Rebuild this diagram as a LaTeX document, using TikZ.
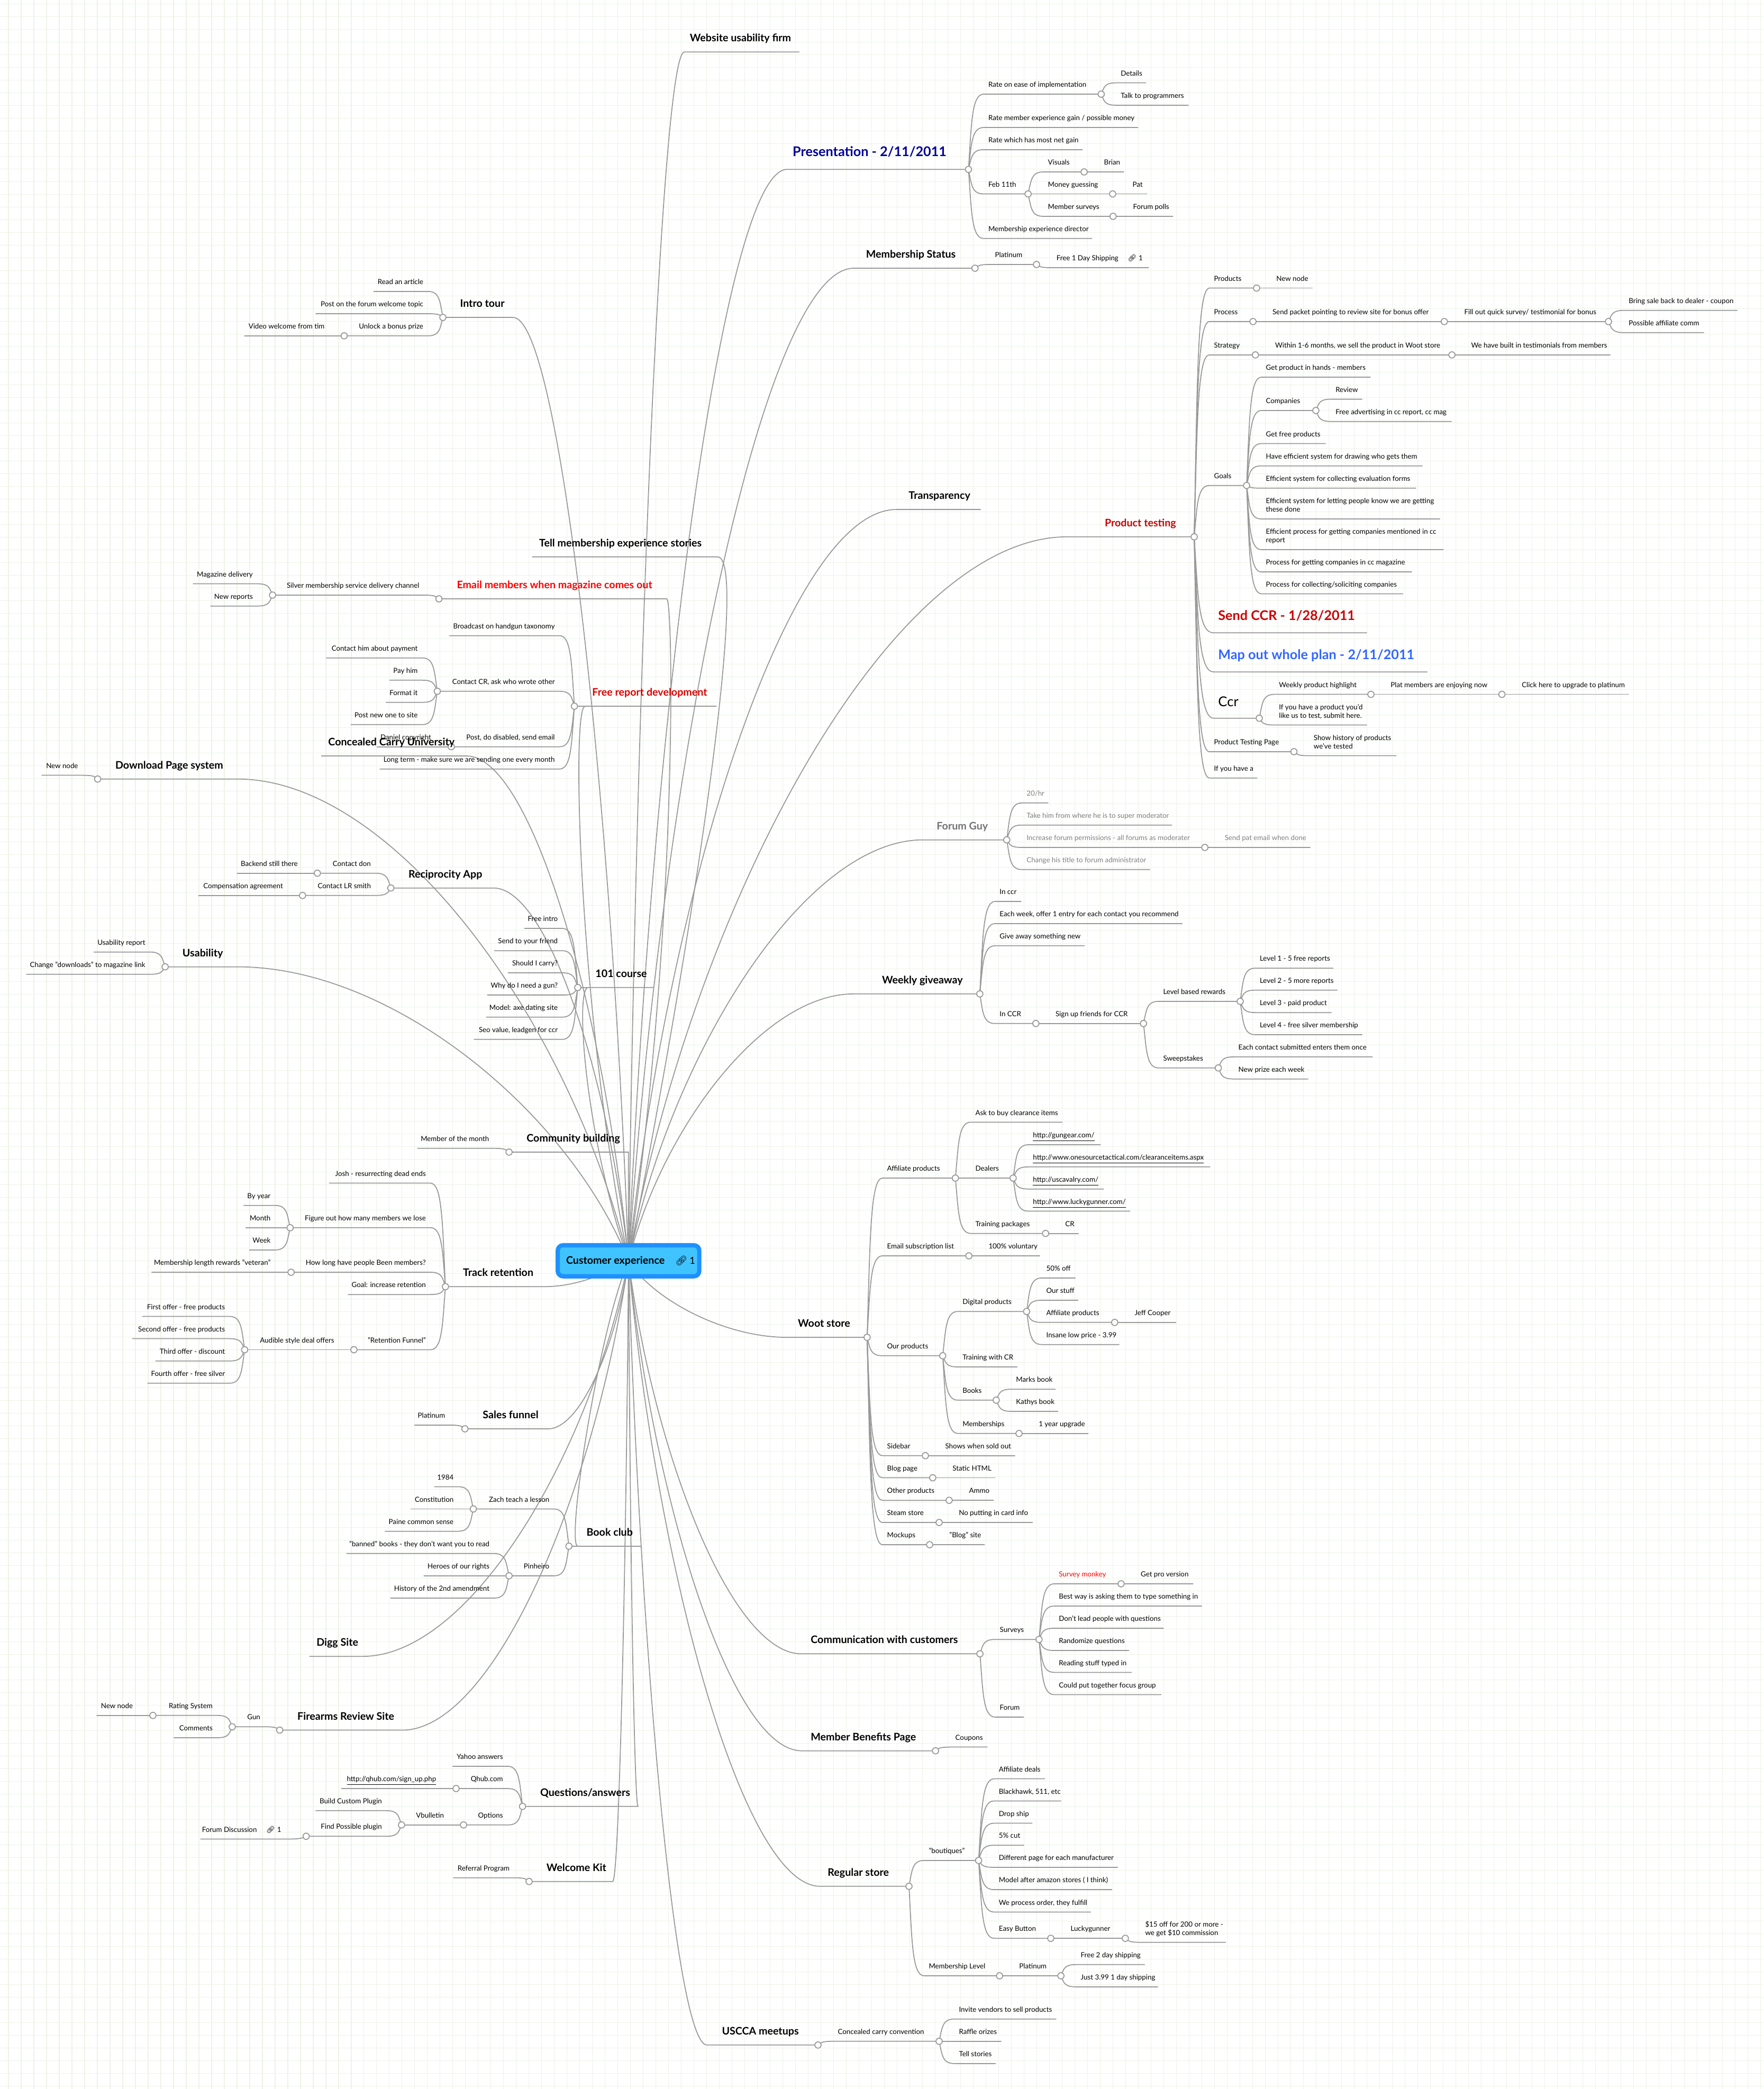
\documentclass[tikz,border=0pt]{standalone}
\usepackage{fontspec}
\setmainfont{Lato}[Ligatures=Common]
\newfontfamily\emo{Noto Emoji}
\usetikzlibrary{calc}
\pgfdeclarelayer{grid}\pgfdeclarelayer{lines}
\pgfsetlayers{grid,lines,main}
\definecolor{linecol}{HTML}{999999}
\definecolor{gridcol}{HTML}{EDF3E6}
\definecolor{rootfill}{HTML}{40C4FF}
\definecolor{rootedge}{HTML}{1E90FF}
\definecolor{navyt}{HTML}{000099}
\definecolor{redt}{HTML}{CC0000}
\definecolor{bluet}{HTML}{3366FF}
\definecolor{greyt}{HTML}{808080}
\tikzset{
  x=1pt,y=-1pt,
  conn/.style={draw=linecol,line width=.7pt,line cap=round},
  jn/.style={circle,draw=linecol,fill=white,line width=.7pt,minimum size=4.7pt,inner sep=0pt},
  leaf/.style={inner sep=0pt,font=\fontsize{5.28}{6.3}\selectfont,text=black},
  topic/.style={font=\fontsize{7.8}{8.5}\selectfont\bfseries,yshift=2.4pt},
  bigt/.style={font=\fontsize{10}{12}\selectfont\bfseries,yshift=4.2pt},
  ccrt/.style={font=\fontsize{10.2}{12}\selectfont,yshift=3.4pt},
  grey/.style={text=greyt},
  rootbox/.style={draw=rootedge,fill=rootfill,line width=3.2pt,rounded corners=4pt,minimum width=106.1pt,minimum height=23.3pt,outer sep=0pt,inner xsep=0pt,inner ysep=0pt,font=\fontsize{7.2}{9}\selectfont}
}
\newcommand\lnk{{\emo\symbol{"1F517}}}
\newcommand\twol[2]{\vbox{\baselineskip=6.4pt\hbox{#1}\hbox{#2}}}
\newcommand\treeedge[2]{\begin{pgfonlayer}{lines}\draw[conn] let \p1=(#1),\p2=(#2 a) in (\p1) .. controls ({\x1+.2*(\x2-\x1)},{\y1+.6*(\y2-\y1)}) and ({\x1+.2*(\x2-\x1)},\y2) .. (#2 a) -- (#2 b);\end{pgfonlayer}}
\newcommand\rootlink[1]{\begin{pgfonlayer}{lines}\draw[conn] let \p1=(root.center),\p2=(#1 a) in (\p1) .. controls ({\x1+.15*(\x2-\x1)},{\y1+.5*(\y2-\y1)}) and ({\x1+.6*(\x2-\x1)},\y2) .. (#1 a) -- (#1 b);\end{pgfonlayer}}
\newcommand\customlink[5]{\begin{pgfonlayer}{lines}\draw[conn] (root.center) .. controls (#2,#3) and (#4,#5) .. (#1 a) -- (#1 b);\end{pgfonlayer}}
% child on the right: id parent textx endx y text
\newcommand\NR[7][]{\coordinate (#2 a) at (#4-3.3,#6);\coordinate (#2 b) at (#5,#6);
  \node[leaf,anchor=base west,#1] (#2) at (#4,#6-5.3) {#7};\treeedge{#3}{#2}}
\newcommand\NL[7][]{\coordinate (#2 a) at (#4+3.3,#6);\coordinate (#2 b) at (#5,#6);
  \node[leaf,anchor=base east,#1] (#2) at (#4,#6-5.3) {#7};\treeedge{#3}{#2}}
\newcommand\NRJ[7][]{\NR[#1]{#2}{#3}{#4}{#5}{#6}{#7}\node[jn] (#2 j) at (#5,#6) {};}
\newcommand\NLJ[7][]{\NL[#1]{#2}{#3}{#4}{#5}{#6}{#7}\node[jn] (#2 j) at (#5,#6) {};}
% top level: id textx attachx endx y text
\newcommand\TP[7][]{\coordinate (#2 a) at (#4,#6);\coordinate (#2 b) at (#5,#6);
  \node[leaf,topic,anchor=base west,#1] (#2) at (#3,#6-5.3) {#7};}
\newcommand\TPJ[7][]{\TP[#1]{#2}{#3}{#4}{#5}{#6}{#7}\node[jn] (#2 j) at (#5,#6) {};}
\begin{document}
\begin{tikzpicture}
\useasboundingbox (0,0) rectangle (1322,1566.3);
\begin{pgfonlayer}{grid}
\fill[white] (0,0) rectangle (1322,1566.3);
\foreach \k in {0,...,138}{\draw[gridcol,line width=.4pt] ({6.346+9.519*\k},0) -- ({6.346+9.519*\k},1566.3);}
\foreach \k in {0,...,164}{\draw[gridcol,line width=.4pt] (0,{2.9+9.519*\k}) -- (1322,{2.9+9.519*\k});}
\end{pgfonlayer}
\node[rootbox] (root) at (471.15,945.3) {\makebox[93.5pt][l]{\textbf{\fontsize{7.8}{9}\selectfont Customer experience}\hspace{8pt}\lnk\hspace{1.5pt}1}};
% ---------- right side
\TP{web}{517}{513}{599}{39}{Website usability firm}\rootlink{web}
\TPJ[bigt,text=navyt,yshift=-2pt]{pres}{594}{590}{726}{127}{Presentation - 2/11/2011}\rootlink{pres}
\NRJ{p1}{pres j}{740.7}{825.5}{70.6}{Rate on ease of implementation}
\NR{p1a}{p1 j}{840}{859}{62.1}{Details}
\NR{p1b}{p1 j}{840}{890.8}{78.9}{Talk to programmers}
\NR{p2}{pres j}{740.7}{853}{95.6}{Rate member experience gain / possible money}
\NR{p3}{pres j}{740.7}{811.4}{112.2}{Rate which has most net gain}
\NRJ{p4}{pres j}{740.7}{770.7}{145.4}{Feb 11th}
\NRJ{p4a}{p4 j}{785.4}{812.7}{128.9}{Visuals}
\NR{p4a1}{p4a j}{827.4}{842.3}{128.9}{Brian}
\NRJ{p4b}{p4 j}{785.4}{834.1}{145.4}{Money guessing}
\NR{p4b1}{p4b j}{848.8}{859.8}{145.4}{Pat}
\NRJ{p4c}{p4 j}{785.4}{834.4}{162.2}{Member surveys}
\NR{p4c1}{p4c j}{849.2}{879.2}{162.2}{Forum polls}
\NR{p5}{pres j}{740.7}{818.5}{178.8}{Membership experience director}
\TPJ{ms}{649}{640}{730.9}{201.1}{Membership Status}\rootlink{ms}
\NRJ{ms1}{ms j}{745.7}{777}{198.3}{Platinum}
\NR{ms2}{ms1 j}{791.8}{861}{200.7}{Free 1 Day Shipping\hspace{7pt}\lnk\hspace{1.5pt}1}
\TP{tr}{681}{672}{735}{382}{Transparency}\rootlink{tr}
\TPJ[text=red!80!black]{pt}{828}{800}{895.2}{402.5}{Product testing}\rootlink{pt}
\NRJ{pt1}{pt j}{909.9}{942}{216}{Products}
\NR{pt1a}{pt1 j}{956.6}{983.7}{216}{New node}
\NRJ{pt2}{pt j}{909.9}{939.3}{241.1}{Process}
\NRJ{pt2a}{pt2 j}{953.7}{1082.7}{241.1}{Send packet pointing to review site for bonus offer}
\NRJ{pt2b}{pt2a j}{1097.5}{1205.8}{241.1}{Fill out quick survey/ testimonial for bonus}
\NR{pt2c}{pt2b j}{1220.8}{1302.2}{232.7}{Bring sale back to dealer - coupon}
\NR{pt2d}{pt2b j}{1220.8}{1277.2}{249.4}{Possible affiliate comm}
\NRJ{pt3}{pt j}{909.9}{941.1}{266.1}{Strategy}
\NRJ{pt3a}{pt3 j}{955.7}{1088.4}{266.1}{Within 1-6 months, we sell the product in Woot store}
\NR{pt3b}{pt3a j}{1102.7}{1207}{266.1}{We have built in testimonials from members}
\NRJ{pt4}{pt j}{909.9}{934.5}{364}{Goals}
\NR{g1}{pt4 j}{948.8}{1027.3}{282.8}{Get product in hands - members}
\NRJ{g2}{pt4 j}{948.8}{986.4}{307.8}{Companies}
\NR{g2a}{g2 j}{1001}{1021}{299.3}{Review}
\NR{g2b}{g2 j}{1001}{1088}{316}{Free advertising in cc report, cc mag}
\NR{g3}{pt4 j}{948.8}{993.6}{332.6}{Get free products}
\NR{g4}{pt4 j}{948.8}{1066.2}{349.3}{Have efficient system for drawing who gets them}
\NR{g5}{pt4 j}{948.8}{1061.4}{366}{Efficient system for collecting evaluation forms}
\NR{g6}{pt4 j}{948.8}{1079.3}{389.1}{\twol{Efficient system for letting people know we are getting}{these done}}
\NR{g7}{pt4 j}{948.8}{1082}{412.1}{\twol{Efficient process for getting companies mentioned in cc}{report}}
\NR{g8}{pt4 j}{948.8}{1058.2}{428.8}{Process for getting companies in cc magazine}
\NR{g9}{pt4 j}{948.8}{1051.7}{445.2}{Process for collecting/soliciting companies}
\NR[bigt,text=redt]{pt5}{pt j}{913}{1024.5}{474.5}{Send CCR - 1/28/2011}
\NR[bigt,text=bluet]{pt6}{pt j}{913}{1069.8}{503.8}{Map out whole plan - 2/11/2011}
\NRJ[ccrt]{pt7}{pt j}{913}{944}{538.5}{Ccr}
\NRJ{c1}{pt7 j}{958.6}{1027.7}{520.6}{Weekly product highlight}
\NRJ{c1a}{c1 j}{1042.3}{1125.9}{520.6}{Plat members are enjoying now}
\NR{c1b}{c1a j}{1140.6}{1220.8}{520.6}{Click here to upgrade to platinum}
\NR{c2}{pt7 j}{958.6}{1024.5}{543.6}{\twol{If you have a product you'd}{like us to test, submit here.}}
\NRJ{pt8}{pt j}{909.9}{970}{563.6}{Product Testing Page}
\NR{pt8a}{pt8 j}{984.6}{1046.6}{566.6}{\twol{Show history of products}{we've tested}}
\NR{pt9}{pt j}{909.9}{942.2}{583.3}{If you have a}
\TPJ[text=greyt!90!black]{fg}{702}{692}{754.7}{629.7}{Forum Guy}\rootlink{fg}
\NR[grey]{fg1}{fg j}{769.4}{785.6}{602}{20/hr}
\NR[grey]{fg2}{fg j}{769.4}{878.4}{618.6}{Take him from where he is to super moderator}
\NRJ[grey]{fg3}{fg j}{769.4}{903.2}{635.4}{Increase forum permissions - all forums as moderater}
\NR[grey]{fg3a}{fg3 j}{917.9}{982.1}{635.4}{Send pat email when done}
\NR[grey]{fg4}{fg j}{769.4}{861.9}{652}{Change his title to forum administrator}
\TPJ{wg}{661}{640}{734.5}{745.2}{Weekly giveaway}\rootlink{wg}
\NR{wg1}{wg j}{749.2}{765.4}{675.9}{In ccr}
\NR{wg2}{wg j}{749.2}{886.2}{692.5}{Each week, offer 1 entry for each contact you recommend}
\NR{wg3}{wg j}{749.2}{812.9}{709.1}{Give away something new}
\NRJ{wg4}{wg j}{749.2}{776.5}{767.4}{In CCR}
\NRJ{wg5}{wg4 j}{791.1}{857.2}{767.4}{Sign up friends for CCR}
\NRJ{wg6}{wg5 j}{871.8}{929.7}{750.8}{Level based rewards}
\NR{l1}{wg6 j}{944.2}{999.3}{725.9}{Level 1 - 5 free reports}
\NR{l2}{wg6 j}{944.2}{1002.4}{742.4}{Level 2 - 5 more reports}
\NR{l3}{wg6 j}{944.2}{998}{759.2}{Level 3 - paid product}
\NR{l4}{wg6 j}{944.2}{1021}{775.8}{Level 4 - free silver membership}
\NRJ{wg7}{wg5 j}{871.8}{913.3}{800.7}{Sweepstakes}
\NR{s1}{wg7 j}{928.2}{1028.7}{792.4}{Each contact submitted enters them once}
\NR{s2}{wg7 j}{928.2}{980.5}{809}{New prize each week}
\TPJ{ws}{598}{590}{650}{1002.7}{Woot store}\rootlink{ws}
\NRJ{w1}{ws j}{664.8}{716.2}{883.3}{Affiliate products}
\NR{w1a}{w1 j}{731}{796.3}{841.4}{Ask to buy clearance items}
\NRJ{w1b}{w1 j}{731}{759.5}{883.3}{Dealers}
\NR{u1}{w1b j}{774.2}{824.9}{858.3}{\underline{http://gungear.com/}}
\NR{u2}{w1b j}{774.2}{907}{874.9}{\underline{http://www.onesourcetactical.com/clearanceitems.aspx}}
\NR{u3}{w1b j}{774.2}{827.3}{891.5}{\underline{http://uscavalry.com/}}
\NR{u4}{w1b j}{774.2}{847.1}{908.1}{\underline{http://www.luckygunner.com/}}
\NRJ{w1c}{w1 j}{731}{783.8}{924.8}{Training packages}
\NR{w1d}{w1c j}{798.4}{808.4}{924.8}{CR}
\NRJ{w2}{ws j}{664.8}{726.3}{941.6}{Email subscription list}
\NR{w2a}{w2 j}{740.9}{779.4}{941.6}{100\% voluntary}
\NRJ{w3}{ws j}{664.8}{706.7}{1016.5}{Our products}
\NRJ{w3a}{w3 j}{721.4}{769.6}{983.3}{Digital products}
\NR{d1}{w3a j}{784.2}{806}{958.2}{50\% off}
\NR{d2}{w3a j}{784.2}{808}{974.9}{Our stuff}
\NRJ{d3}{w3a j}{784.2}{835.6}{991.5}{Affiliate products}
\NR{d3a}{d3 j}{850.4}{881.4}{991.5}{Jeff Cooper}
\NR{d4}{w3a j}{784.2}{838.9}{1008.1}{Insane low price - 3.99}
\NR{w3b}{w3 j}{721.4}{762.4}{1024.9}{Training with CR}
\NRJ{w3c}{w3 j}{721.4}{746.8}{1049.8}{Books}
\NR{b1}{w3c j}{761.5}{791}{1041.6}{Marks book}
\NR{b2}{w3c j}{761.5}{793.1}{1058.2}{Kathys book}
\NRJ{w3d}{w3 j}{721.4}{763.9}{1074.8}{Memberships}
\NR{w3e}{w3d j}{778.5}{815.7}{1074.8}{1 year upgrade}
\NRJ{w4}{ws j}{664.8}{693.7}{1091.4}{Sidebar}
\NR{w4a}{w4 j}{708.4}{760.8}{1091.4}{Shows when sold out}
\NRJ{w5}{ws j}{664.8}{699.2}{1108}{Blog page}
\NR{w5a}{w5 j}{713.9}{745.9}{1108}{Static HTML}
\NRJ{w6}{ws j}{664.8}{711.5}{1124.9}{Other products}
\NR{w6a}{w6 j}{726.3}{744.7}{1124.9}{Ammo}
\NRJ{w7}{ws j}{664.8}{704}{1141.5}{Steam store}
\NR{w7a}{w7 j}{718.6}{774}{1141.5}{No putting in card info}
\NRJ{w8}{ws j}{664.8}{696.9}{1158.2}{Mockups}
\NR{w8a}{w8 j}{711.5}{738}{1158.2}{"Blog" site}
\TPJ{cc}{607.6}{600.8}{734.6}{1240}{Communication with customers}\rootlink{cc}
\NRJ{cc1}{cc j}{749.3}{778.9}{1229.2}{Surveys}
\NRJ[text=red]{sv1}{cc1 j}{793.6}{840.4}{1187.5}{Survey monkey}
\NR{sv1a}{sv1 j}{855}{894.3}{1187.5}{Get pro version}
\NR{sv2}{cc1 j}{793.6}{900.8}{1204.2}{Best way is asking them to type something in}
\NR{sv3}{cc1 j}{793.6}{872.2}{1220.8}{Don't lead people with questions}
\NR{sv4}{cc1 j}{793.6}{846.2}{1237.5}{Randomize questions}
\NR{sv5}{cc1 j}{793.6}{848.2}{1253.9}{Reading stuff typed in}
\NR{sv6}{cc1 j}{793.6}{870.4}{1270.6}{Could put together focus group}
\NR{cc2}{cc j}{749.3}{767.3}{1287.4}{Forum}
\TPJ{mb}{607.6}{600.9}{701.3}{1312.7}{Member Benefits Page}\rootlink{mb}
\NR{mb1}{mb j}{716}{740}{1309.9}{Coupons}
\TPJ{rs}{620.3}{614.8}{681.4}{1414.3}{Regular store}\rootlink{rs}
\NRJ{rs1}{rs j}{696.1}{733.6}{1394.9}{"boutiques"}
\NR{r1}{rs1 j}{748.6}{783.2}{1333.7}{Affiliate deals}
\NR{r2}{rs1 j}{748.6}{795.3}{1350.3}{Blackhawk, 511, etc}
\NR{r3}{rs1 j}{748.6}{773.6}{1367}{Drop ship}
\NR{r4}{rs1 j}{748.6}{767.5}{1383.5}{5\% cut}
\NR{r5}{rs1 j}{748.6}{837.9}{1400.1}{Different page for each manufacturer}
\NR{r6}{rs1 j}{748.6}{833.5}{1416.8}{Model after amazon stores ( I think)}
\NR{r7}{rs1 j}{748.6}{817.6}{1433.6}{We process order, they fulfill}
\NRJ{r8}{rs1 j}{748.6}{787.7}{1453.3}{Easy Button}
\NRJ{r8a}{r8 j}{802.4}{843.6}{1453.3}{Luckygunner}
\NR{r8b}{r8a j}{858.3}{918.8}{1456.3}{\twol{\$15 off for 200 or more -}{we get \$10 commission}}
\NRJ{rs2}{rs j}{696.1}{749.3}{1481.4}{Membership Level}
\NRJ{rs3}{rs2 j}{763.9}{795.3}{1481.4}{Platinum}
\NR{rs3a}{rs3 j}{810}{858}{1473}{Free 2 day shipping}
\NR{rs3b}{rs3 j}{810}{867.9}{1489.7}{Just 3.99 1 day shipping}
\TPJ{us}{541}{530}{613.2}{1533.3}{USCCA meetups}\rootlink{us}
\NRJ{us1}{us j}{627.9}{704}{1530.5}{Concealed carry convention}
\NR{us1a}{us1 j}{718.7}{791.6}{1513.8}{Invite vendors to sell products}
\NR{us1b}{us1 j}{718.7}{750.4}{1530.5}{Raffle orizes}
\NR{us1c}{us1 j}{718.7}{746.3}{1547.2}{Tell stories}
% ---------- left side
\TPJ{it}{344.7}{384.6}{332}{238}{Intro tour}\rootlink{it}
\NL{it1}{it j}{317.5}{280.2}{218.5}{Read an article}
\NL{it2}{it j}{317.5}{236.8}{235.2}{Post on the forum welcome topic}
\NLJ{it3}{it j}{317.5}{258}{251.8}{Unlock a bonus prize}
\NL{it3a}{it3 j}{243.5}{183.3}{251.8}{Video welcome from tim}
\TP{tm}{404}{537.9}{399.2}{417.5}{Tell membership experience stories}\customlink{tm}{520}{700}{562}{417.5}
\TPJ[text=red]{em}{342.3}{499.8}{329}{449}{Email members when magazine comes out}\customlink{em}{508}{700}{505}{449}
\NLJ{em1}{em j}{314.5}{204.3}{446.2}{Silver membership service delivery channel}
\NL{em1a}{em1 j}{189.7}{144.8}{437.7}{Magazine delivery}
\NL{em1b}{em1 j}{189.7}{157.9}{454.4}{New reports}
\TP[text=red!85!black]{fr}{443.8}{438.6}{537}{529.5}{Free report development}\customlink{fr}{434}{760}{428}{529.5}
\node[jn] (fr j) at (430.6,529.5) {};
\begin{pgfonlayer}{lines}\draw[conn] (fr j) -- (fr a);\end{pgfonlayer}
\NL{f1}{fr j}{416.1}{337}{476.6}{Broadcast on handgun taxonomy}
\NLJ{f2}{fr j}{416.1}{327.8}{518.3}{Contact CR, ask who wrote other}
\NL{f2a}{f2 j}{313.3}{244.6}{493.3}{Contact him about payment}
\NL{f2b}{f2 j}{313.3}{292.2}{510}{Pay him}
\NL{f2c}{f2 j}{313.3}{289.4}{526.6}{Format it}
\NL{f2d}{f2 j}{313.3}{263.1}{543.3}{Post new one to site}
\NLJ{f3}{fr j}{416.1}{338.3}{559.9}{Post, do disabled, send email}
\NL{f3a}{f3 j}{323.4}{282.7}{559.9}{Daniel copyright}
\NL{f4}{fr j}{416.1}{284.9}{576.6}{Long term - make sure we are sending one every month}
\TP{cu}{245.9}{349.7}{241}{566.8}{Concealed Carry University}\rootlink{cu}
\TPJ{dl}{86.3}{178}{73.2}{584.1}{Download Page system}\rootlink{dl}
\NL{dl1}{dl j}{58.7}{31.4}{581.3}{New node}
\TPJ{ra}{306}{370}{293}{665.8}{Reciprocity App}\rootlink{ra}
\NLJ{ra1}{ra j}{278.2}{237.9}{654.7}{Contact don}
\NL{ra1a}{ra1 j}{223.4}{177.8}{654.7}{Backend still there}
\NLJ{ra2}{ra j}{278.2}{226.8}{671.4}{Contact LR smith}
\NL{ra2a}{ra2 j}{212.3}{148.9}{671.4}{Compensation agreement}
\TPJ{ub}{136.6}{178}{123.8}{724.9}{Usability}\rootlink{ub}
\NL{ub1}{ub j}{109.1}{70.4}{713.8}{Usability report}
\NL{ub2}{ub j}{109.1}{19.8}{730.5}{Change "downloads" to magazine link}
\TP{cs}{446.2}{440.9}{489.8}{740.4}{101 course}\customlink{cs}{438}{850}{431}{740.4}
\node[jn] (cs j) at (433.1,740.4) {};
\begin{pgfonlayer}{lines}\draw[conn] (cs j) -- (cs a);\end{pgfonlayer}
\NL{cs1}{cs j}{418.3}{393.2}{696.1}{Free intro}
\NL{cs2}{cs j}{418.3}{370.6}{712.8}{Send to your friend}
\NL{cs3}{cs j}{418.3}{380.9}{729.4}{Should I carry?}
\NL{cs4}{cs j}{418.3}{365.4}{746.1}{Why do I need a gun?}
\NL{cs5}{cs j}{418.3}{364.6}{762.6}{Model: axe dating site}
\NL{cs6}{cs j}{418.3}{355.5}{779.3}{Seo value, leadgen for ccr}
\TPJ{cb}{394.6}{471.1}{381.6}{863.8}{Community building}\rootlink{cb}
\NL{cb1}{cb j}{366.8}{313}{861}{Member of the month}
\TPJ{tk}{346.9}{408}{333.9}{964.7}{Track retention}\customlink{tk}{455}{955}{432}{964.7}
\NL{tk1}{tk j}{319.4}{246.9}{887.1}{Josh - resurrecting dead ends}
\NLJ{tk2}{tk j}{319.4}{217.5}{920.5}{Figure out how many members we lose}
\NL{tk2a}{tk2 j}{203}{182.8}{903.8}{By year}
\NL{tk2b}{tk2 j}{203}{184.3}{920.5}{Month}
\NL{tk2c}{tk2 j}{203}{186.9}{937.2}{Week}
\NLJ{tk3}{tk j}{319.4}{218.2}{953.9}{How long have people Been members?}
\NL{tk3a}{tk3 j}{203}{113.8}{953.9}{Membership length rewards "veteran"}
\NL{tk4}{tk j}{319.4}{260.9}{970.6}{Goal: increase retention}
\NLJ{tk5}{tk j}{319.4}{265.3}{1012}{"Retention Funnel"}
\NLJ{tk6}{tk5 j}{250.7}{183.4}{1012}{Audible style deal offers}
\NL{o1}{tk6 j}{168.8}{106.9}{987}{First offer - free products}
\NL{o2}{tk6 j}{168.8}{99.3}{1003.7}{Second offer - free products}
\NL{o3}{tk6 j}{168.8}{116.7}{1020.4}{Third offer - discount}
\NL{o4}{tk6 j}{168.8}{110.7}{1037.1}{Fourth offer - free silver}
\TPJ{sf}{361.7}{411}{348.5}{1071.3}{Sales funnel}\rootlink{sf}
\NL{sf1}{sf j}{333.9}{310.8}{1068.5}{Platinum}
\TP{bk}{439.5}{433.2}{480.6}{1159.3}{Book club}\customlink{bk}{448}{1000}{424}{1159.3}
\node[jn] (bk j) at (426.5,1159.3) {};
\begin{pgfonlayer}{lines}\draw[conn] (bk j) -- (bk a);\end{pgfonlayer}
\NLJ{bk1}{bk j}{412}{354.8}{1131.4}{Zach teach a lesson}
\NL{bk1a}{bk1 j}{340.2}{325.7}{1114.7}{1984}
\NL{bk1b}{bk1 j}{340.2}{308}{1131.4}{Constitution}
\NL{bk1c}{bk1 j}{340.2}{288.7}{1148.1}{Paine common sense}
\NLJ{bk2}{bk j}{412}{381.6}{1181.5}{Pinheiro}
\NL{bk2a}{bk2 j}{367.1}{259.9}{1164.8}{"banned" books - they don't want you to read}
\NL{bk2b}{bk2 j}{367.1}{317.8}{1181.5}{Heroes of our rights}
\NL{bk2c}{bk2 j}{367.1}{292.8}{1198.2}{History of the 2nd amendment}
\TP{dg}{237.1}{271.9}{232.1}{1241.9}{Digg Site}\rootlink{dg}
\TPJ{fa}{222.8}{301.6}{209.7}{1297.2}{Firearms Review Site}\rootlink{fa}
\NLJ{fa1}{fa j}{195.3}{174.1}{1294.7}{Gun}
\NLJ{fa2}{fa1 j}{159.6}{114.6}{1286.2}{Rating System}
\NL{fa2a}{fa2 j}{99.8}{72.6}{1286.2}{New node}
\NL{fa3}{fa1 j}{159.6}{130.5}{1302.9}{Comments}
\TPJ{qa}{404.8}{478.3}{391.7}{1354.4}{Questions/answers}\rootlink{qa}
\NL{q1}{qa j}{377.2}{339.4}{1324.3}{Yahoo answers}
\NLJ{q2}{qa j}{377.2}{341.9}{1341}{Qhub.com}
\NL{q2a}{q2 j}{327.1}{256}{1341}{\underline{http://qhub.com/sign\_up.php}}
\NLJ{q3}{qa j}{377.2}{347.5}{1368.3}{Options}
\NLJ{q4}{q3 j}{333}{301}{1368.3}{Vbulletin}
\NL{q4a}{q4 j}{286.5}{236.7}{1357.6}{Build Custom Plugin}
\NLJ{q4b}{q4 j}{286.5}{229.5}{1376.8}{Find Possible plugin}
\NL{q4c}{q4b j}{211}{150.5}{1378.9}{Forum Discussion\hspace{7pt}\lnk\hspace{1.5pt}1}
\TPJ{wk}{409.5}{459.3}{396.6}{1410.7}{Welcome Kit}\rootlink{wk}
\NL{wk1}{wk j}{382.2}{339.9}{1407.9}{Referral Program}
\end{tikzpicture}
\end{document}
